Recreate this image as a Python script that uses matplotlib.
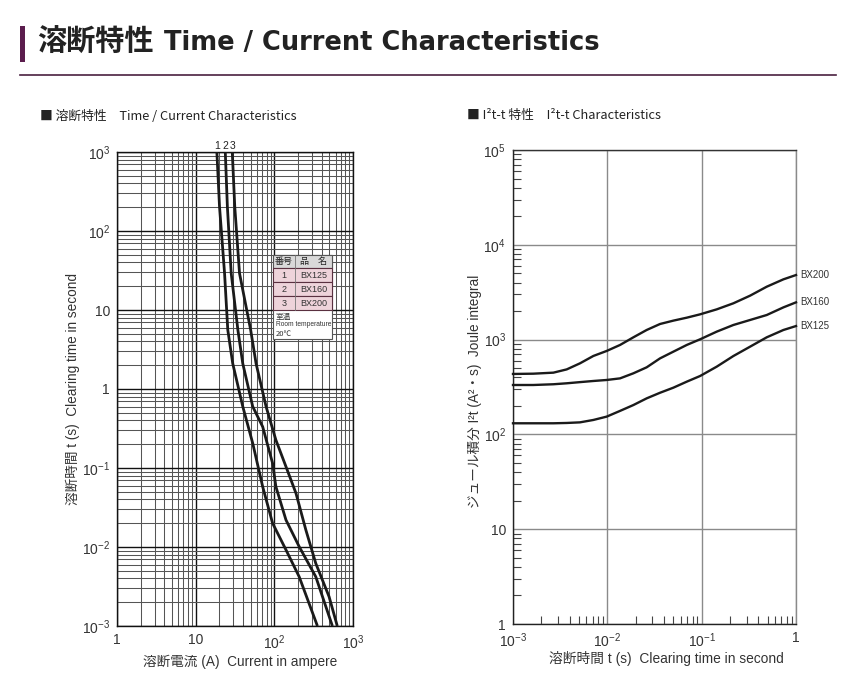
import matplotlib
matplotlib.use("Agg")
import matplotlib.pyplot as plt
from matplotlib.ticker import LogLocator, FixedLocator, NullFormatter, FixedFormatter
from matplotlib.patches import Rectangle
from matplotlib.transforms import Affine2D
from matplotlib.lines import Line2D

plt.rcParams['mathtext.fontset'] = 'custom'
plt.rcParams['mathtext.rm'] = 'Liberation Sans'
plt.rcParams['mathtext.default'] = 'regular'
plt.rcParams['font.family'] = ['Liberation Sans', 'Noto Sans CJK JP', 'DejaVu Sans']

# ---------------- data ----------------
# Time / Current characteristics (current A, clearing time s)
cur_bx125 = [18.6, 20.1, 23.3, 25.6, 29.6, 39.7, 53.1, 71.1, 95, 140.6, 207, 353]
time_bx125 = [1000, 203, 29.1, 5.6, 2.1, 0.6, 0.206, 0.058, 0.02, 0.0092, 0.0042, 0.001]
cur_bx160 = [23.8, 25.3, 28.3, 34.4, 39.7, 53.1, 71.1, 95, 104.7, 140.6, 207, 336.5, 547]
time_bx160 = [1000, 203, 29.1, 5.6, 2.1, 0.6, 0.333, 0.115, 0.058, 0.022, 0.0101, 0.0042, 0.001]
cur_bx200 = [29.2, 31.4, 36.1, 50.0, 58.6, 78.5, 104.7, 140.6, 188.4, 251.8, 336.5, 496.6, 631]
time_bx200 = [1000, 203, 29.1, 5.6, 2.1, 0.6, 0.226, 0.104, 0.0479, 0.0164, 0.0062, 0.00235, 0.001]
tc_curve_ids = ['1', '2', '3']

# I2t-t characteristics (clearing time s, Joule integral A^2 s)
t_i2t = [0.001, 0.00164, 0.00268, 0.00371, 0.00513, 0.00711, 0.00984, 0.01364, 0.01888,
         0.02612, 0.0362, 0.0501, 0.0695, 0.0962, 0.1443, 0.2168, 0.3258, 0.4894, 0.7356, 1.0]
i2t_bx200 = [434, 437, 448, 485, 562, 672, 759, 878, 1057, 1263, 1461, 1585, 1703, 1847,
             2084, 2415, 2906, 3614, 4323, 4798]
i2t_bx160 = [332, 332, 338, 346, 356, 366, 375, 390, 441, 510, 634, 746, 878, 1007,
             1213, 1426, 1610, 1817, 2188, 2471]
i2t_bx125 = [131, 131, 131, 132, 134, 142, 154, 177, 204, 240, 275, 311, 360, 413,
             518, 671, 842, 1057, 1263, 1390]

legend_nums = ['1', '2', '3']
legend_names = ['BX125', 'BX160', 'BX200']

xl_ticks = [1, 10, 100, 1000]
xl_labels = ['1', '10', '$10^{2}$', '$10^{3}$']
yl_ticks = [1e-3, 1e-2, 1e-1, 1, 10, 100, 1000]
yl_labels = ['$10^{-3}$', '$10^{-2}$', '$10^{-1}$', '1', '10', '$10^{2}$', '$10^{3}$']
xr_ticks = [1e-3, 1e-2, 1e-1, 1]
xr_labels = ['$10^{-3}$', '$10^{-2}$', '$10^{-1}$', '1']
yr_ticks = [1, 10, 100, 1e3, 1e4, 1e5]
yr_labels = ['1', '10', '$10^{2}$', '$10^{3}$', '$10^{4}$', '$10^{5}$']

# ---------------- figure ----------------
W, H = 854, 692
fig = plt.figure(figsize=(W / 100, H / 100), dpi=100)
px = Affine2D().scale(1 / W, -1 / H).translate(0, 1) + fig.transFigure

# header
fig.add_artist(Rectangle((20, 26), 5, 36, transform=px, color='#5b1d4d', lw=0))
fig.add_artist(Line2D([20, 836], [75, 75], transform=px, color='#4a2040', lw=1.2))
fig.text(37, 42, '溶断特性', transform=px,
         fontsize=21, fontweight='bold', color='#222', va='center', ha='left',
         family=['Noto Sans CJK JP', 'DejaVu Sans'])
fig.text(164, 43, 'Time / Current Characteristics', transform=px,
         fontsize=18.5, fontweight='bold', color='#222', va='center', ha='left',
         family=['DejaVu Sans'])

sub_font = ['Noto Sans CJK JP', 'DejaVu Sans']
fig.text(40, 116, '■ 溶断特性　Time / Current Characteristics', transform=px,
         fontsize=9.2, color='#222', va='center', ha='left', family=sub_font)
fig.text(467, 116, '■ I²t-t 特性　I²t-t Characteristics', transform=px,
         fontsize=9.2, color='#222', va='center', ha='left', family=sub_font)

lab_font = ['Liberation Sans', 'Noto Sans CJK JP']
tick_color = '#333'

# ---------------- left chart ----------------
axL = fig.add_axes([117 / W, 1 - 626 / H, 236 / W, 474 / H])
axL.set_xscale('log')
axL.set_yscale('log')
axL.set_xlim(1, 1000)
axL.set_ylim(1e-3, 1e3)
axL.xaxis.set_major_locator(FixedLocator(xl_ticks))
axL.xaxis.set_major_formatter(FixedFormatter(xl_labels))
axL.yaxis.set_major_locator(FixedLocator(yl_ticks))
axL.yaxis.set_major_formatter(FixedFormatter(yl_labels))
axL.xaxis.set_minor_locator(LogLocator(base=10, subs=range(2, 10), numticks=100))
axL.yaxis.set_minor_locator(LogLocator(base=10, subs=range(2, 10), numticks=100))
axL.xaxis.set_minor_formatter(NullFormatter())
axL.yaxis.set_minor_formatter(NullFormatter())
axL.grid(which='major', color='#111', lw=1.0)
axL.grid(which='minor', color='#555', lw=0.75)
axL.tick_params(which='both', length=0, labelsize=10, labelcolor=tick_color, pad=5)
for s in axL.spines.values():
    s.set_color('#111')
    s.set_linewidth(1.0)

for cur, tm, cid in zip([cur_bx125, cur_bx160, cur_bx200],
                        [time_bx125, time_bx160, time_bx200], tc_curve_ids):
    axL.plot(cur, tm, color='#1a1a1a', lw=2.0, solid_capstyle='butt', zorder=5)
    axL.annotate(cid, (cur[0], tm[0]), xytext=(0, 1), textcoords='offset points',
                 ha='center', va='bottom', fontsize=7.5, color='#222', annotation_clip=False)

axL.set_xlabel('溶断電流 (A)  Current in ampere', fontsize=9.8, color='#333', family=lab_font)
axL.set_ylabel('溶断時間 t (s)  Clearing time in second', fontsize=9.8, color='#333', family=lab_font)
axL.xaxis.set_label_coords(0.52, -0.061)
axL.yaxis.set_label_coords(-0.158, 0.5)

# legend table (pixel coordinates)
tx0, tx1, tdiv = 273, 332, 295
rows_y = [255, 268, 282, 296, 310]
fig.add_artist(Rectangle((tx0, rows_y[0]), tx1 - tx0, 339 - rows_y[0], transform=px,
                         facecolor='white', edgecolor='#555', lw=0.8, zorder=10))
fig.add_artist(Rectangle((tx0, rows_y[0]), tx1 - tx0, rows_y[1] - rows_y[0], transform=px,
                         facecolor='#d9d9d9', edgecolor='#555', lw=0.8, zorder=10))
fig.text((tx0 + tdiv) / 2, (rows_y[0] + rows_y[1]) / 2, '番号', transform=px, fontsize=6.5,
         ha='center', va='center', family=sub_font, color='#222', zorder=12)
fig.text((tdiv + tx1) / 2, (rows_y[0] + rows_y[1]) / 2, '品　名', transform=px, fontsize=6.5,
         ha='center', va='center', family=sub_font, color='#222', zorder=12)
for i, (n, name) in enumerate(zip(legend_nums, legend_names)):
    y0, y1 = rows_y[i + 1], rows_y[i + 2]
    fig.add_artist(Rectangle((tx0, y0), tx1 - tx0, y1 - y0, transform=px,
                             facecolor='#eed3da', edgecolor='#5a3040', lw=0.8, zorder=10))
    fig.text((tx0 + tdiv) / 2, (y0 + y1) / 2, n, transform=px, fontsize=6.5,
             ha='center', va='center', color='#333', zorder=12)
    fig.text((tdiv + tx1) / 2, (y0 + y1) / 2, name, transform=px, fontsize=6.5,
             ha='center', va='center', color='#333', zorder=12)
fig.add_artist(Line2D([tdiv, tdiv], [rows_y[0], rows_y[-1]], transform=px, color='#777',
                      lw=0.6, zorder=11))
fig.text(276, 317, '室温', transform=px, fontsize=5.5, ha='left', va='center',
         family=sub_font, color='#333', zorder=12)
fig.text(276, 325, 'Room temperature', transform=px, fontsize=4.8, ha='left', va='center',
         color='#333', zorder=12)
fig.text(276, 334, '20℃', transform=px, fontsize=5.5, ha='left', va='center',
         family=sub_font, color='#333', zorder=12)

# ---------------- right chart ----------------
axR = fig.add_axes([513 / W, 1 - 624 / H, 283 / W, 474 / H])
axR.set_xscale('log')
axR.set_yscale('log')
axR.set_xlim(1e-3, 1)
axR.set_ylim(1, 1e5)
axR.xaxis.set_major_locator(FixedLocator(xr_ticks))
axR.xaxis.set_major_formatter(FixedFormatter(xr_labels))
axR.yaxis.set_major_locator(FixedLocator(yr_ticks))
axR.yaxis.set_major_formatter(FixedFormatter(yr_labels))
axR.xaxis.set_minor_locator(LogLocator(base=10, subs=range(2, 10), numticks=100))
axR.yaxis.set_minor_locator(LogLocator(base=10, subs=range(2, 10), numticks=100))
axR.xaxis.set_minor_formatter(NullFormatter())
axR.yaxis.set_minor_formatter(NullFormatter())
axR.grid(which='major', color='#8a8a8a', lw=1.0)
axR.tick_params(which='major', length=0, labelsize=10, labelcolor=tick_color, pad=5)
axR.tick_params(which='minor', direction='in', length=6, width=0.8, color='#444')
axR.spines['left'].set_color('#222')
axR.spines['bottom'].set_color('#222')
axR.spines['top'].set_color('#333')
axR.spines['right'].set_color('#8a8a8a')
for s in axR.spines.values():
    s.set_linewidth(1.0)

for vals, name in zip([i2t_bx200, i2t_bx160, i2t_bx125], ['BX200', 'BX160', 'BX125']):
    axR.plot(t_i2t, vals, color='#1a1a1a', lw=1.7, zorder=5, clip_on=False)
    axR.annotate(name, (t_i2t[-1], vals[-1]), xytext=(3, 0), textcoords='offset points',
                 ha='left', va='center', fontsize=7, color='#333', annotation_clip=False)

axR.set_xlabel('溶断時間 t (s)  Clearing time in second', fontsize=9.9, color='#333', family=lab_font)
axR.set_ylabel('ジュール積分 I²t (A²・s)  Joule integral', fontsize=9.8, color='#333',
               family=lab_font)
axR.xaxis.set_label_coords(0.542, -0.058)
axR.yaxis.set_label_coords(-0.11, 0.49)

fig.savefig('out.png', dpi=100)
